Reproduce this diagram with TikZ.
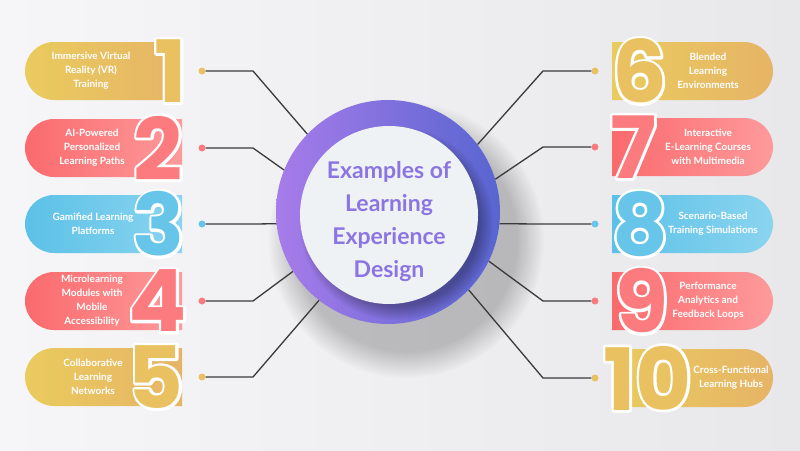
\documentclass[tikz,border=0pt]{standalone}
\usepackage{fontspec}
\setmainfont{Lato}
\newfontfamily\digitfont{Poppins}
\usetikzlibrary{shapes.misc,fadings}

\definecolor{bgL}{HTML}{F6F6F9}
\definecolor{bgR}{HTML}{E8E8EB}
\definecolor{yelL}{HTML}{EACB5E}
\definecolor{yelR}{HTML}{E6B466}
\definecolor{yelD}{HTML}{E9C160}
\definecolor{redL}{HTML}{FA6A6D}
\definecolor{redR}{HTML}{FE9A9B}
\definecolor{redD}{HTML}{FC7B7E}
\definecolor{bluL}{HTML}{5CC1E7}
\definecolor{bluR}{HTML}{8AD4F0}
\definecolor{bluD}{HTML}{66C5E9}
\definecolor{ringL}{HTML}{A77CEA}
\definecolor{ringR}{HTML}{5865D0}
\definecolor{coreC}{HTML}{EFF2F4}
\definecolor{titleC}{HTML}{8C74E2}
\definecolor{wireC}{HTML}{3A3A3C}

\newcommand\ringdigit[2]{\rlap{\textcolor{white}{\special{pdf:literal direct 5.4 w 1 j 1 Tr}#2\special{pdf:literal direct 0 Tr}}}\textcolor{#1}{#2}}

\begin{document}
\begin{tikzpicture}[x=1pt, y=-1pt,
		leftpill/.style={rounded rectangle, rounded rectangle right arc=none, minimum width=157, minimum height=58, inner sep=0},
		rightpill/.style={rounded rectangle, rounded rectangle left arc=none, minimum width=161, minimum height=58, inner sep=0},
		pilltext/.style={text=white, align=center, inner sep=0, font=\bfseries\fontsize{10}{14}\selectfont},
		digit/.style={inner sep=0, font=\digitfont\bfseries\fontsize{86}{86}\selectfont},
		wire/.style={draw=wireC, line width=1.3},
		dot/.style={circle, minimum size=7, inner sep=0}]

		\useasboundingbox (0, 0) rectangle (800, 450);
		\shade [left color=bgL, right color=bgR] (0, 0) rectangle (800, 450);

		\fill [black, opacity=0.22, path fading=circle with fuzzy edge 20 percent] (406, 240) circle (138);

		\node [circle, minimum size=224, inner sep=0, left color=ringL, right color=ringR] (hub) at (388, 212) {};
		\fill [black, opacity=0.3, path fading=circle with fuzzy edge 15 percent] (396, 223) circle (97);
		\node [circle, minimum size=178, inner sep=0, fill=coreC] (core) at (389, 215) {};
		\node [text=titleC, align=center, font=\bfseries\fontsize{23}{33}\selectfont] (title) at (389, 222) {Examples of\\Learning\\Experience\\Design};

		\node [leftpill, left color=yelL, right color=yelR] (p1) at (103.5, 71) {};
		\node [leftpill, left color=redL, right color=redR] (p2) at (103.5, 148) {};
		\node [leftpill, left color=bluL, right color=bluR] (p3) at (103.5, 224) {};
		\node [leftpill, left color=redL, right color=redR] (p4) at (103.5, 301) {};
		\node [leftpill, left color=yelL, right color=yelR] (p5) at (103.5, 377) {};

		\node [rightpill, left color=yelL, right color=yelR] (p6) at (692.5, 71) {};
		\node [rightpill, left color=redL, right color=redR] (p7) at (692.5, 147) {};
		\node [rightpill, left color=bluL, right color=bluR] (p8) at (692.5, 224) {};
		\node [rightpill, left color=redL, right color=redR] (p9) at (692.5, 301) {};
		\node [rightpill, left color=yelL, right color=yelR] (p10) at (692.5, 378) {};

		\node [pilltext] (t1) at (91, 71) {Immersive Virtual\\Reality (VR)\\Training};
		\node [pilltext] (t2) at (92, 148) {AI-Powered\\Personalized\\Learning Paths};
		\node [pilltext] (t3) at (93, 224) {Gamified Learning\\Platforms};
		\node [pilltext] (t4) at (92, 301) {Microlearning\\Modules with\\Mobile\\Accessibility};
		\node [pilltext] (t5) at (93, 377) {Collaborative\\Learning\\Networks};
		\node [pilltext] (t6) at (708, 71) {Blended\\Learning\\Environments};
		\node [pilltext] (t7) at (708, 147) {Interactive\\E-Learning Courses\\with Multimedia};
		\node [pilltext] (t8) at (713, 224) {Scenario-Based\\Training Simulations};
		\node [pilltext] (t9) at (708, 301) {Performance\\Analytics and\\Feedback Loops};
		\node [pilltext] (t10) at (731, 378) {Cross-Functional\\Learning Hubs};

		\node [digit, anchor=east] (n1) at (187, 71) {\ringdigit{yelD}{1}};
		\node [digit, anchor=east] (n2) at (183, 148) {\ringdigit{redD}{2}};
		\node [digit, anchor=east] (n3) at (185, 224) {\ringdigit{bluD}{3}};
		\node [digit, anchor=east] (n4) at (187, 301) {\ringdigit{redD}{4}};
		\node [digit, anchor=east] (n5) at (184, 377) {\ringdigit{yelD}{5}};
		\node [digit, anchor=west] (n6) at (612, 71) {\ringdigit{yelD}{6}};
		\node [digit, anchor=west] (n7) at (610, 147) {\ringdigit{redD}{7}};
		\node [digit, anchor=west] (n8) at (612, 224) {\ringdigit{bluD}{8}};
		\node [digit, anchor=west] (n9) at (615, 301) {\ringdigit{redD}{9}};
		\node [digit, anchor=west] (n10) at (603, 378) {\ringdigit{yelD}{10}};

		\node [dot, fill=yelD] (d1) at (202, 71) {};
		\node [dot, fill=redD] (d2) at (202, 148) {};
		\node [dot, fill=bluD] (d3) at (202, 224) {};
		\node [dot, fill=redD] (d4) at (202, 301) {};
		\node [dot, fill=yelD] (d5) at (202, 377) {};
		\node [dot, fill=yelD] (d6) at (595, 71) {};
		\node [dot, fill=redD] (d7) at (595, 147) {};
		\node [dot, fill=bluD] (d8) at (595, 224) {};
		\node [dot, fill=redD] (d9) at (595, 301) {};
		\node [dot, fill=yelD] (d10) at (595, 378) {};

		\coordinate (k1) at (253, 71);
		\coordinate (k2) at (253, 148);
		\coordinate (k3) at (253, 224);
		\coordinate (k4) at (253, 301);
		\coordinate (k5) at (253, 377);
		\coordinate (k6) at (543, 71);
		\coordinate (k7) at (543, 147);
		\coordinate (k8) at (543, 224);
		\coordinate (k9) at (543, 301);
		\coordinate (k10) at (543, 378);

		\draw [wire] (d1) -- (k1) -- (hub.136);
		\draw [wire] (d2) -- (k2) -- (hub.158);
		\draw [wire] (d3) -- (k3) -- (hub.186);
		\draw [wire] (d4) -- (k4) -- (hub.212);
		\draw [wire] (d5) -- (k5) -- (hub.232);
		\draw [wire] (d6) -- (k6) -- (hub.37);
		\draw [wire] (d7) -- (k7) -- (hub.17);
		\draw [wire] (d8) -- (k8) -- (hub.-6);
		\draw [wire] (d9) -- (k9) -- (hub.-26);
		\draw [wire] (d10) -- (k10) -- (hub.-44);
	\end{tikzpicture}
\end{document}
